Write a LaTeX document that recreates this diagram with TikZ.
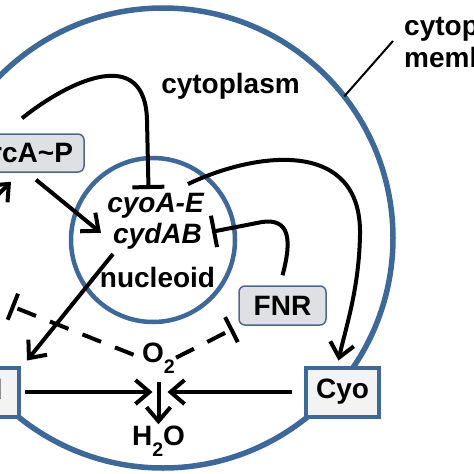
\documentclass[tikz,border=0pt]{standalone}
\usepackage{fontspec}
\setmainfont{Liberation Sans}
\usetikzlibrary{arrows.meta}
\definecolor{memblue}{RGB}{62,104,152}
\definecolor{boxgray}{RGB}{222,224,228}
\definecolor{boxedge}{RGB}{78,104,140}
\definecolor{cytfill}{RGB}{243,243,243}
\newcommand{\lowtwo}{\raisebox{-11pt}{\fontsize{19.6}{20}\selectfont 2}}

\begin{document}
\begin{tikzpicture}[x=1pt, y=-1pt,
  font=\fontsize{28}{32}\selectfont\bfseries,
  membrane/.style={circle, draw=memblue, line width=5.5pt, outer sep=0pt, inner sep=0pt},
  regbox/.style={draw=boxedge, fill=boxgray, line width=1.5pt, rounded corners=6pt, inner sep=0pt},
  oxbox/.style={draw=memblue, fill=cytfill, line width=4pt, minimum width=73pt, minimum height=49pt, inner sep=0pt},
  lbl/.style={inner sep=2pt},
  act/.style={line width=4pt, -{Straight Barb[length=14pt, width=24pt]}},
  inhib/.style={line width=4pt, -{Bar[width=32pt]}},
  oxdash/.style={line width=4pt, dash pattern=on 20pt off 15pt, -{Bar[width=28pt]}}]
  \useasboundingbox (0,0) rectangle (474,474);
  \clip (0,0) rectangle (474,474);

  % cell and nucleoid
  \node[membrane, minimum size=460pt] (mem) at (163,238) {};
  \node[membrane, line width=4.5pt, minimum size=164pt] (nuc) at (153,240) {};

  % regulators and oxidases
  \node[regbox, minimum width=124pt, minimum height=38pt] (arcap) at (22,153) {ArcA\textasciitilde P};
  \node[regbox, minimum width=87pt, minimum height=39pt] (fnr) at (282.5,305.5) {FNR};
  \node[oxbox, minimum width=86pt] (cyd) at (-24,392) {Cyd};
  \node[oxbox] (cyo) at (342.5,392) {Cyo};

  % labels
  \node[lbl, anchor=base] (cyt) at (230.5,93) {cytoplasm};
  \node[lbl, anchor=base west, align=left] (cm) at (402,67) {cytoplasmic\\membrane};
  \node[lbl, anchor=base] (cyoae) at (155.5,212.5) {\itshape cyoA-E};
  \node[lbl, anchor=base] (cydab) at (157.5,243) {\itshape cydAB};
  \node[lbl, anchor=base] (nucl) at (157.5,287) {nucleoid};
  \node[lbl, anchor=base west, inner sep=1pt] (o2) at (141,362) {O\lowtwo};
  \node[lbl, anchor=base, inner sep=1pt] (h2o) at (158.5,445) {H\lowtwo O};

  \coordinate (arcb) at (-20,213);
  \coordinate (o2l) at (11,306);
  \coordinate (meet) at (158.5,392);

  \draw[line width=2pt] (mem.38) -- ([xshift=-9pt]cm.west);

  % regulation
  \draw[act] (arcb) -- ([shift={(-11pt,-9pt)}]arcap.south);
  \draw[act] ([shift={(14pt,-7pt)}]arcap.south) -- ([shift={(-10pt,3pt)}]cydab.west);
  \draw[inhib] ([yshift=15pt]arcap.north) .. controls (70,80) and (145,45) .. (147,120)
    -- ([shift={(-7pt,2pt)}]cyoae.north);
  \draw[inhib] ([yshift=10pt]fnr.north) .. controls (292,240) and (290,218) .. (262,222)
    -- ([shift={(8pt,4pt)}]cydab.east);
  \draw[act] ([shift={(-18pt,7pt)}]cyoae.north east) .. controls (260,150) and (362,140) .. (360,235)
    .. controls (359,290) and (345,330) .. ([shift={(-4pt,5pt)}]cyo.north);
  \draw[act] ([shift={(2pt,-3pt)}]cydab.south west) -- ([shift={(6pt,5pt)}]cyd.north east);

  % oxygen
  \draw[oxdash, shorten <=8pt] (o2.west) -- (o2l);
  \draw[oxdash] (o2.east) -- ([shift={(-5pt,-3pt)}]fnr.south west);
  \draw[act, shorten <=4pt] (cyd.east) -- ([xshift=-6pt]meet);
  \draw[act, shorten <=12pt] (cyo.west) -- ([xshift=9pt]meet);
  \draw[act] ([yshift=10pt]meet) -- (h2o.north);
\end{tikzpicture}
\end{document}
